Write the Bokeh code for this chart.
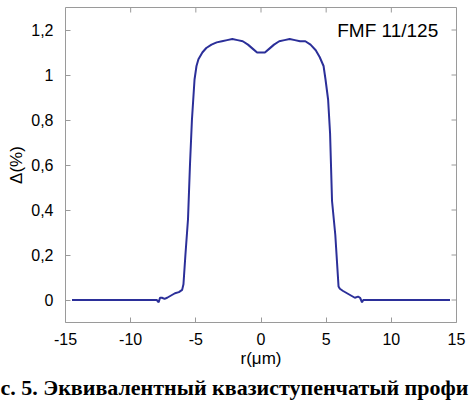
from bokeh.plotting import figure
from bokeh.models import (LinearAxis, FixedTicker, CustomJSTickFormatter, Range1d, Label, Title)
from bokeh.embed import file_html
from bokeh.resources import INLINE

# --- data ---
r_um = [-14.5, -8.0, -7.85, -7.75, -7.6, -7.4, -7.2, -6.9, -6.6, -6.3, -6.05, -5.95,
        -5.8, -5.6, -5.45, -5.3, -5.1, -4.95, -4.8, -4.5, -4.2, -3.8, -3.4, -3.0,
        -2.6, -2.2, -1.8, -1.4, -1.0, -0.6, -0.3, 0.0, 0.3, 0.6, 1.0, 1.4, 1.8,
        2.2, 2.6, 3.0, 3.4, 3.8, 4.2, 4.5, 4.8, 4.95, 5.15, 5.3, 5.45, 5.7, 5.95,
        6.05, 6.3, 6.6, 6.9, 7.2, 7.45, 7.6, 7.75, 7.85, 14.5]
delta_pct = [0.0, 0.0, -0.01, 0.01, 0.01, 0.005, 0.01, 0.02, 0.03, 0.035, 0.045, 0.07,
             0.2, 0.36, 0.6, 0.8, 0.98, 1.04, 1.07, 1.1, 1.12, 1.135, 1.145, 1.15,
             1.155, 1.16, 1.155, 1.15, 1.135, 1.115, 1.1, 1.1, 1.1, 1.115, 1.135, 1.15, 1.155,
             1.16, 1.155, 1.15, 1.15, 1.135, 1.11, 1.08, 1.04, 0.98, 0.89, 0.74, 0.44, 0.29, 0.06,
             0.05, 0.04, 0.03, 0.02, 0.01, 0.015, 0.01, -0.01, 0.0, 0.0]

x_ticks = [-15, -10, -5, 0, 5, 10, 15]
y_ticks = [0, 0.2, 0.4, 0.6, 0.8, 1.0, 1.2]

annotation_text = "FMF 11/125"
x_label = "r(\u03bcm)"
y_label = "\u0394(%)"
caption = "с. 5. Эквивалентный квазиступенчатый профи"

FONT = "Liberation Sans"
FRAME = "#9a9a9a"

X0, X1 = -15, 15
Y0, Y1 = -0.1, 1.3
W, H = 474, 402
BL, BR, BT, BB = 65, 18, 7, 80
TICK = 5  # px

p = figure(width=W, height=H, output_backend="svg", toolbar_location=None,
           x_range=Range1d(X0, X1), y_range=Range1d(Y0, Y1),
           x_axis_location=None, y_axis_location=None,
           min_border_left=BL, min_border_right=BR, min_border_top=BT, min_border_bottom=BB)
p.outline_line_color = FRAME
p.outline_line_width = 1
p.xgrid.visible = False
p.ygrid.visible = False
p.background_fill_color = "white"
p.border_fill_color = "white"

yfmt = CustomJSTickFormatter(code="var s = (Math.round(tick*10)/10).toString(); return s.replace('.', ',');")
xfmt = CustomJSTickFormatter(code="return Math.round(tick).toString();")

def style(ax):
    ax.axis_line_color = None
    ax.major_tick_line_color = FRAME
    ax.major_tick_in = TICK
    ax.major_tick_out = 0
    ax.minor_tick_line_color = None
    ax.major_label_text_font = FONT
    ax.major_label_text_font_size = "16px"
    ax.major_label_text_color = "black"
    ax.axis_label_text_font = FONT
    ax.axis_label_text_font_size = "17px"
    ax.axis_label_text_font_style = "normal"
    ax.axis_label_text_color = "black"

xb = LinearAxis(ticker=FixedTicker(ticks=x_ticks), formatter=xfmt, axis_label=x_label)
style(xb)
xb.major_label_standoff = 10
xb.axis_label_standoff = 1
p.add_layout(xb, "below")

yl = LinearAxis(ticker=FixedTicker(ticks=y_ticks), formatter=yfmt, axis_label=y_label)
style(yl)
yl.major_label_standoff = 12
yl.axis_label_standoff = 2
p.add_layout(yl, "left")

# inward ticks on the top and right sides of the box
frame_w = W - BL - BR
frame_h = H - BT - BB
dx = TICK * (X1 - X0) / frame_w
dy = TICK * (Y1 - Y0) / frame_h
p.segment(x0=x_ticks, y0=[Y1] * len(x_ticks), x1=x_ticks, y1=[Y1 - dy] * len(x_ticks),
          line_color=FRAME, line_width=1)
p.segment(x0=[X1] * len(y_ticks), y0=y_ticks, x1=[X1 - dx] * len(y_ticks), y1=y_ticks,
          line_color=FRAME, line_width=1)

p.line(r_um, delta_pct, line_color="#2b2f99", line_width=2)

p.add_layout(Label(x=13.6, y=1.2, text=annotation_text, text_align="right",
                   text_baseline="middle", text_font=FONT, text_font_size="19px",
                   text_color="black"))

cap = Title(text=caption, align="left", text_font="Liberation Serif",
            text_font_size="22px", text_font_style="bold", text_color="black",
            offset=-BL, standoff=4)
p.add_layout(cap, "below")

open("out.html", "w").write(file_html(p, INLINE))
